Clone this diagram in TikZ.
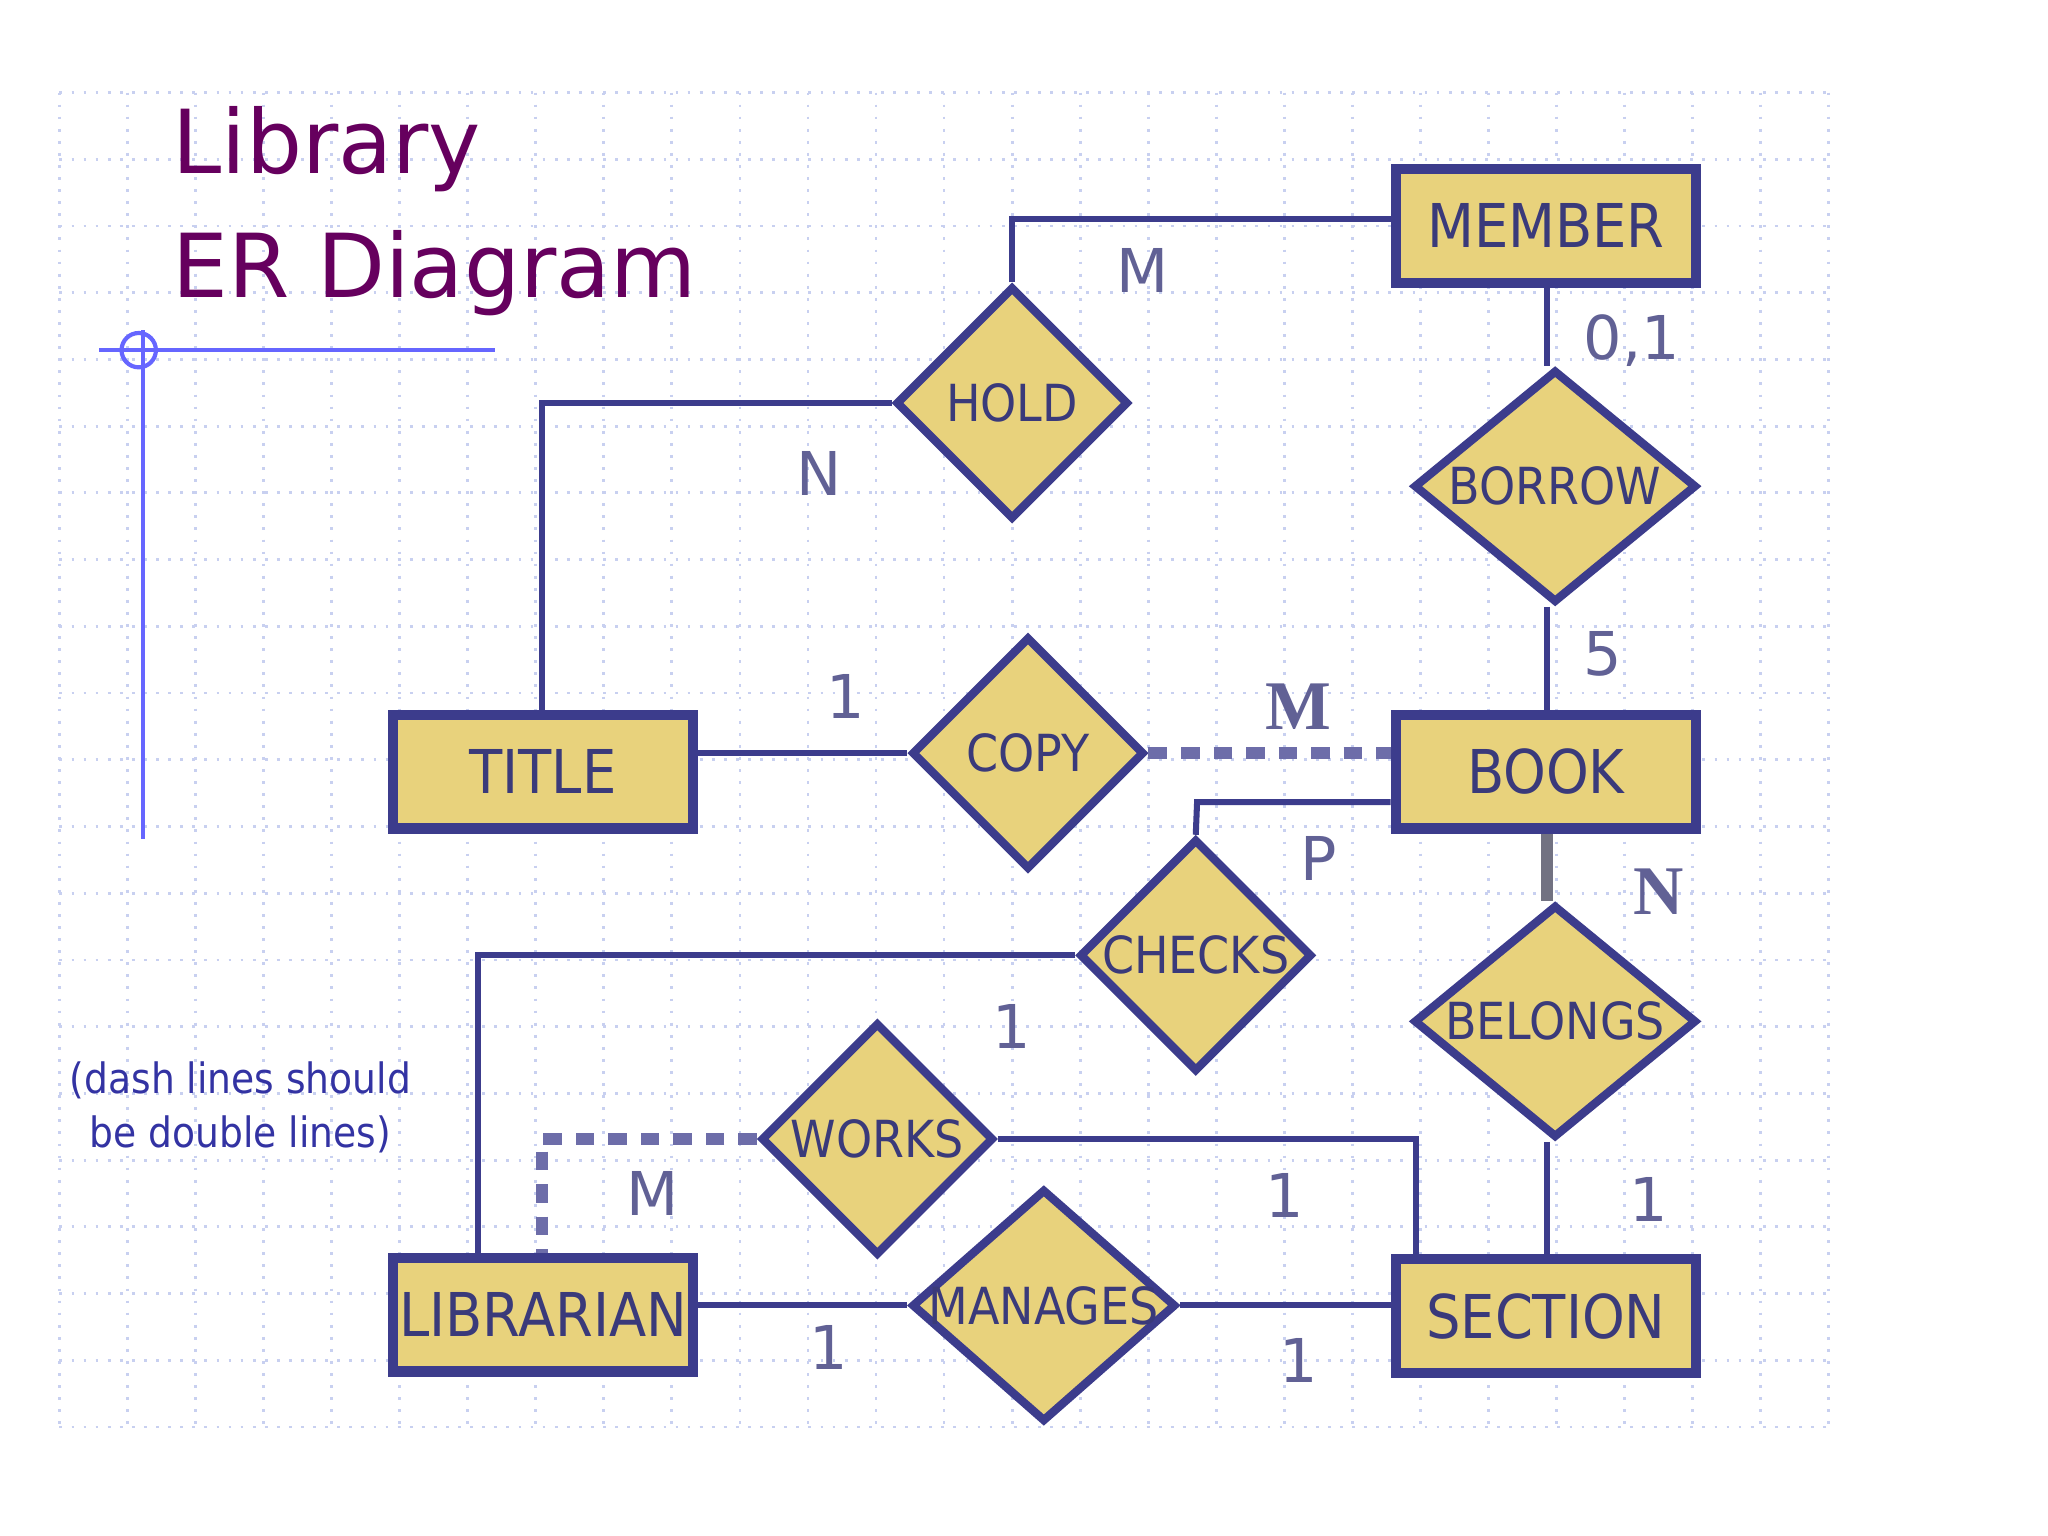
\documentclass[tikz,border=0pt]{standalone}
\usepackage{fontspec}
\setmainfont{DejaVu Sans}
\newfontfamily\cond{DejaVu Sans Condensed}
\newfontfamily\serifm{Liberation Serif}
\usetikzlibrary{shapes.geometric}
\definecolor{ent}{HTML}{E8D27C}
\definecolor{edge}{HTML}{3C3C8C}
\definecolor{lab}{HTML}{3A3A7A}
\definecolor{ttl}{HTML}{66005E}
\definecolor{gridc}{HTML}{C8D0F0}
\begin{document}
\begin{tikzpicture}[x=0.01cm,y=-0.01cm,
  entity/.style={draw=edge,line width=2.2pt,fill=ent,minimum width=2.27cm,minimum height=0.86cm,font=\cond\fontsize{13}{14}\selectfont,text=lab,inner sep=0pt},
  rel/.style={draw=edge,line width=1.8pt,fill=ent,diamond,inner sep=0pt,minimum width=1.76cm,minimum height=1.76cm,label={[text=lab,font=\cond\fontsize{11}{12}\selectfont]center:#1}},
  conn/.style={draw=edge,line width=1.3pt},
  dconn/.style={draw=edge!75,line width=2.5pt,dash pattern=on 4pt off 3pt},
  lbl/.style={text=lab!80,font=\fontsize{13}{14}\selectfont}]
\useasboundingbox (0,0) rectangle (1550,1162);
\fill[white] (0,0) rectangle (1550,1162);
\foreach \i in {0,...,26} \draw[gridc,dotted,line width=0.6pt] (45+\i*51.5,70) -- (45+\i*51.5,1080);
\foreach \j in {0,...,20} \draw[gridc,dotted,line width=0.6pt] (45,70+\j*50.5) -- (1385,70+\j*50.5);
% title
\node[anchor=west,text=ttl,font=\fontsize{19}{21}\selectfont] (t1) at (118,113) {Library};
\node[anchor=west,text=ttl,font=\fontsize{19}{21}\selectfont] (t2) at (118,207) {ER Diagram};
\draw[blue!60,line width=0.9pt] (75,265) -- (375,265);
\draw[blue!60,line width=0.9pt] (108,250) -- (108,635);
\draw[blue!60,line width=0.9pt] (105,265) circle (13);
% entities
\node[entity] (member) at (1170,171) {MEMBER};
\node[entity] (title) at (411,584) {TITLE};
\node[entity] (book) at (1170,584) {BOOK};
\node[entity] (lib) at (411,995) {LIBRARIAN};
\node[entity] (section) at (1170,996) {SECTION};
% relations
\node[rel=HOLD] (hold) at (766,305) {};
\node[rel=BORROW,minimum width=2.14cm] (borrow) at (1177,368) {};
\node[rel=COPY] (copy) at (778,570) {};
\node[rel=CHECKS] (checks) at (905,723) {};
\node[rel=BELONGS,minimum width=2.14cm] (belongs) at (1177,773) {};
\node[rel=WORKS] (works) at (664,862) {};
\node[rel=MANAGES,minimum width=2cm] (manages) at (790,988) {};
% connectors
\draw[conn] (hold.north) -- (766,166) -- (member.west|-0,166);
\draw[conn] (hold.west) -- (410,305) -- (title.north-|410,0);
\draw[conn] (member.south-|1171,0) -- (borrow.north-|1171,0);
\draw[conn] (borrow.south-|1171,0) -- (book.north-|1171,0);
\draw[conn] (title.east|-0,570) -- (copy.west);
\draw[dconn] (copy.east) -- (book.west|-0,570);
\draw[conn] (book.west|-0,607) -- (906,607) -- (checks.north);
\draw[draw=gray!80!edge,line width=2.5pt] (book.south-|1171,0) -- (belongs.north-|1171,0);
\draw[conn] (checks.west) -- (362,723) -- (lib.north-|362,0);
\draw[dconn] (works.west) -- (410,862) -- (lib.north-|410,0);
\draw[conn] (works.east) -- (1072,862) -- (section.north-|1072,0);
\draw[conn] (belongs.south-|1171,0) -- (section.north-|1171,0);
\draw[conn] (lib.east|-0,988) -- (manages.west);
\draw[conn] (manages.east) -- (section.west|-0,988);
% labels
\node[lbl] (l1) at (865,205) {M};
\node[lbl] (l2) at (1235,258) {0,1};
\node[lbl] (l3) at (620,358) {N};
\node[lbl] (l4) at (640,527) {1};
\node[lbl,font=\serifm\bfseries\fontsize{15}{16}\selectfont] (l5) at (983,535) {M};
\node[lbl] (l6) at (1213,495) {5};
\node[lbl] (l7) at (998,650) {P};
\node[lbl,font=\serifm\bfseries\fontsize{15}{16}\selectfont] (l8) at (1255,675) {N};
\node[lbl] (l9) at (766,777) {1};
\node[lbl] (l10) at (972,905) {1};
\node[lbl] (l11) at (1248,908) {1};
\node[lbl] (l12) at (494,903) {M};
\node[lbl] (l13) at (627,1020) {1};
\node[lbl] (l14) at (983,1030) {1};
\node[text=blue!55!black!80,font=\cond\fontsize{9}{11.5}\selectfont,align=center] (note) at (182,838) {(dash lines should\\be double lines)};
\end{tikzpicture}
\end{document}
